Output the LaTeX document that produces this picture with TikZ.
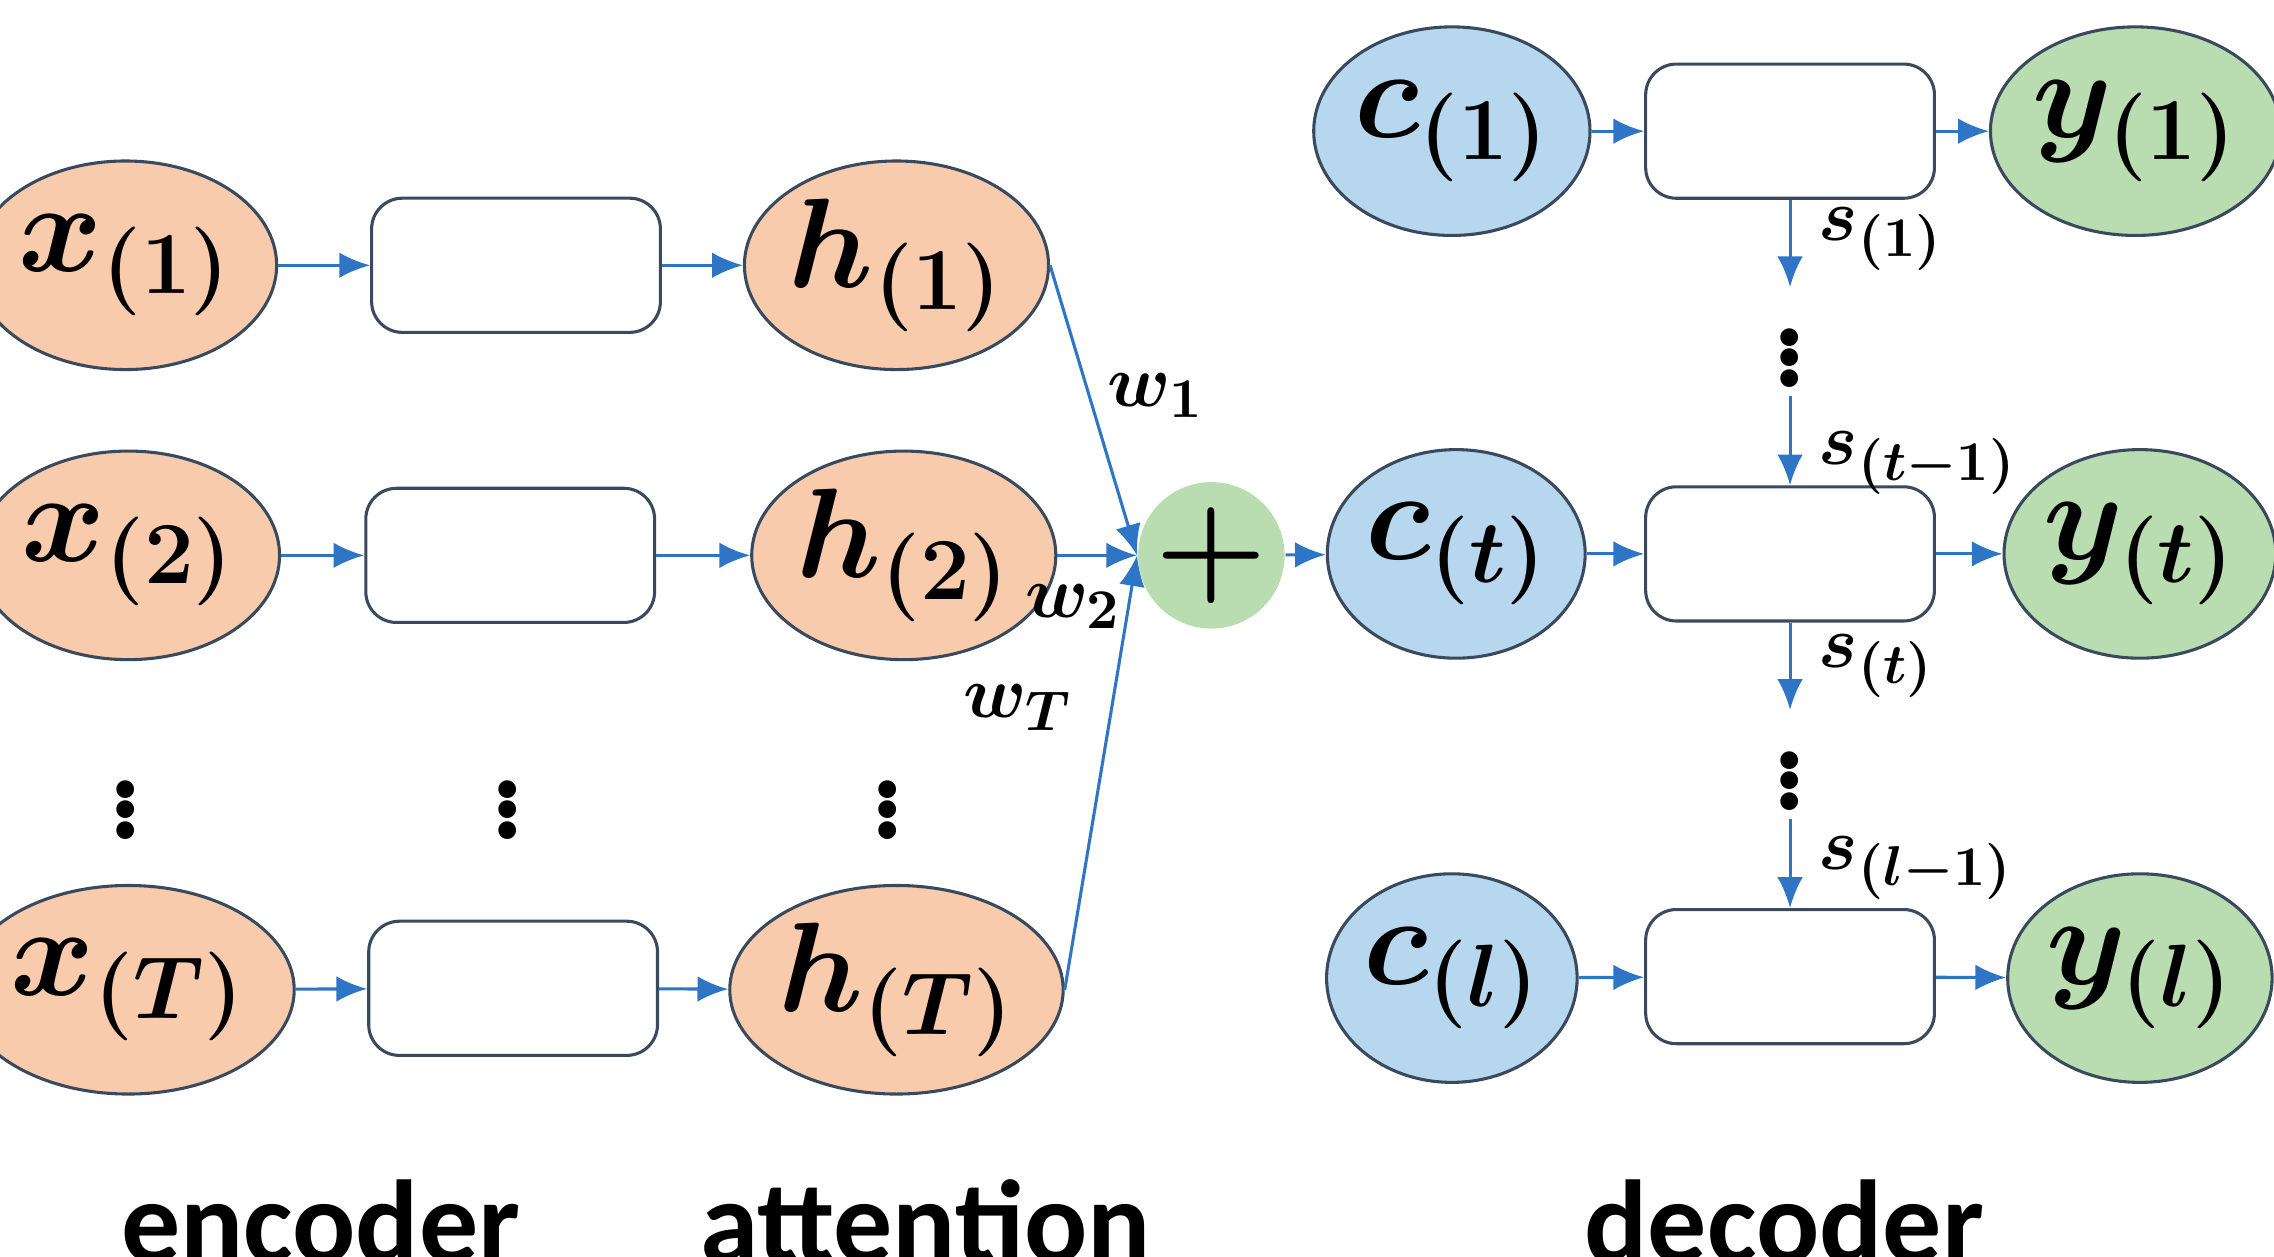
\documentclass[tikz,border=0pt]{standalone}
\usepackage{amsmath,bm}
\usepackage{fontspec}
\newfontfamily\labfont{Carlito}
\usetikzlibrary{arrows.meta,shapes.geometric}
\definecolor{enc}{HTML}{F8CBAD}
\definecolor{dec}{HTML}{B7D7EF}
\definecolor{outc}{HTML}{B9DDB0}
\definecolor{edge}{HTML}{3A4A5E}
\definecolor{arr}{HTML}{2E75C6}
\begin{document}
\begin{tikzpicture}[x=0.01cm,y=-0.01cm,
  st/.style={ellipse,draw=edge,line width=0.6pt,minimum width=1.49cm,minimum height=1.43cm,inner sep=0pt,font=\fontsize{24}{26}\selectfont},
  en/.style={st,fill=enc},
  de/.style={st,fill=dec},
  ou/.style={st,fill=outc},
  box/.style={draw=edge,rounded corners=6pt,line width=0.6pt,minimum width=1.98cm,minimum height=0.92cm},
  ar/.style={draw=arr,line width=0.6pt,-{Latex[length=6pt,width=5pt]}},
  lab/.style={font=\fontsize{15}{17}\selectfont},
  captxt/.style={font=\labfont\bfseries\fontsize{23}{26}\selectfont},
  dots/.style={font=\fontsize{24}{26}\selectfont\bfseries}]
\useasboundingbox (0,0) rectangle (1560,862);
% encoder
\node[en] (x1) at (86,182) {$\bm{x_{(1)}}$};
\node[en] (x2) at (88,381) {$\bm{x_{(2)}}$};
\node[en] (xT) at (88,679) {$\bm{x_{(T)}}$};
\node[box] (b1) at (354,182) {};
\node[box] (b2) at (350,381) {};
\node[box] (bT) at (352,678) {};
\node[en] (h1) at (615,182) {$\bm{h_{(1)}}$};
\node[en] (h2) at (620,381) {$\bm{h_{(2)}}$};
\node[en] (hT) at (615,679) {$\bm{h_{(T)}}$};
\node[dots] (d1) at (86,545) {$\vdots$};
\node[dots] (d2) at (348,545) {$\vdots$};
\node[dots] (d3) at (609,545) {$\vdots$};
% sum
\node[circle,fill=outc,minimum size=0.9cm,inner sep=0pt,font=\fontsize{26}{28}\selectfont] (p) at (831,381) {$\bm{+}$};
% decoder
\node[de] (c1) at (996,90) {$\bm{c_{(1)}}$};
\node[de] (ct) at (999,380) {$\bm{c_{(t)}}$};
\node[de] (cl) at (996,671) {$\bm{c_{(l)}}$};
\node[box] (e1) at (1228,90) {};
\node[box] (et) at (1228,380) {};
\node[box] (el) at (1228,670) {};
\node[ou] (y1) at (1465,90) {$\bm{y_{(1)}}$};
\node[ou] (yt) at (1468,380) {$\bm{y_{(t)}}$};
\node[ou] (yl) at (1468,671) {$\bm{y_{(l)}}$};
\node[dots] (d4) at (1228,235) {$\vdots$};
\node[dots] (d5) at (1228,525) {$\vdots$};
% arrows
\foreach \a/\b in {x1/b1,b1/h1,x2/b2,b2/h2,xT/bT,bT/hT,c1/e1,e1/y1,ct/et,et/yt,cl/el,el/yl,p/ct}
  \draw[ar] (\a) -- (\b);
\draw[ar] (h1.east) -- (p.west) node[pos=0.45,right,lab] {$\bm{w_1}$};
\draw[ar] (h2.east) -- (p.west) node[pos=0.2,below=2pt,lab] {$\bm{w_2}$};
\draw[ar] (hT.east) -- (p.west) node[pos=0.65,left=4pt,lab] {$\bm{w_T}$};
\coordinate (s1) at (1228,197);
\coordinate (s2t) at (1228,272);
\coordinate (s3) at (1228,487);
\coordinate (s4t) at (1228,562);
\draw[ar] (e1.south) -- (s1) node[pos=0.45,right=2pt,lab] {$\bm{s_{(1)}}$};
\draw[ar] (s2t) -- (et.north) node[pos=0.75,right=2pt,lab] {$\bm{s_{(t-1)}}$};
\draw[ar] (et.south) -- (s3) node[pos=0.5,right=2pt,lab] {$\bm{s_{(t)}}$};
\draw[ar] (s4t) -- (el.north) node[pos=0.55,right=2pt,lab] {$\bm{s_{(l-1)}}$};
% captions
\node[captxt] (k1) at (220,838) {encoder};
\node[captxt] (k2) at (635,838) {attention};
\node[captxt] (k3) at (1224,838) {decoder};
\end{tikzpicture}
\end{document}
